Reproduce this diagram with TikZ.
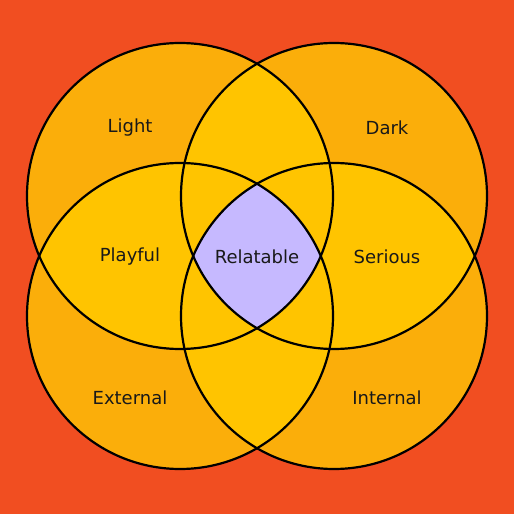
\documentclass[tikz,border=0pt]{standalone}
\usepackage{fontspec}
\setmainfont{DejaVu Sans}
\usetikzlibrary{positioning}

\definecolor{bgred}{HTML}{F14E21}
\definecolor{ringorange}{HTML}{FBAE0A}
\definecolor{overlapyellow}{HTML}{FFC400}
\definecolor{corelilac}{HTML}{C6B9FF}

\tikzset{
    ring/.style={draw=black, line width=2.2pt},
    tag/.style={font=\fontsize{18}{21}\selectfont, text=black!90, inner sep=0pt}
}

\begin{document}
\begin{tikzpicture}[x=1pt, y=1pt]
    \def\R{153}

    % frame
    \useasboundingbox (0,0) rectangle (514,514);
    \fill[bgred] (0,0) rectangle (514,514);

    % circle centres
    \coordinate (light) at (180,318);
    \coordinate (dark) at (334,318);
    \coordinate (external) at (180,198);
    \coordinate (internal) at (334,198);

    % single regions
    \foreach \c in {light,dark,external,internal}
        \fill[ringorange] (\c) circle[radius=\R];

    % overlaps of two or more
    \foreach \a/\b in {light/dark, light/external, light/internal,
                       dark/external, dark/internal, external/internal} {
        \begin{scope}
            \clip (\a) circle[radius=\R];
            \fill[overlapyellow] (\b) circle[radius=\R];
        \end{scope}
    }

    % all four
    \begin{scope}
        \clip (light) circle[radius=\R];
        \clip (dark) circle[radius=\R];
        \clip (external) circle[radius=\R];
        \fill[corelilac] (internal) circle[radius=\R];
    \end{scope}

    % outlines
    \foreach \c in {light,dark,external,internal}
        \draw[ring] (\c) circle[radius=\R];

    % labels
    \node[tag] (lightlbl) at (130,386) {Light};
    \node[tag] (darklbl) at (387,386) {Dark};
    \node[tag] (playful) at (130,257) {Playful};
    \node[tag] (relatable) at (257,257) {Relatable};
    \node[tag] (serious) at (387,257) {Serious};
    \node[tag] (externallbl) at (130,116) {External};
    \node[tag] (internallbl) at (387,116) {Internal};
\end{tikzpicture}
\end{document}
